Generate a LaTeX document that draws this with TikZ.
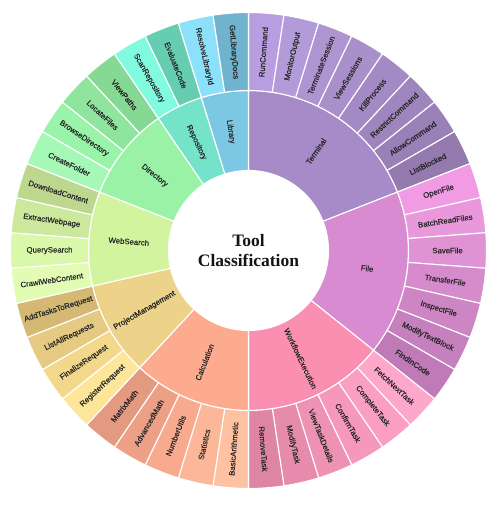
\documentclass[tikz,border=0pt]{standalone}
\usepackage{fontspec}
\setmainfont{Liberation Sans}
\newfontfamily\lblfont[FakeBold=0.35]{Liberation Sans}
\newfontfamily\titlefont{Liberation Serif}
% category colours
\definecolor{Terminal}{HTML}{A78AC8}
\definecolor{File}{HTML}{D88BD0}
\definecolor{Workflow}{HTML}{FB8FB1}
\definecolor{Calc}{HTML}{FCAB8F}
\definecolor{PM}{HTML}{EDD289}
\definecolor{Web}{HTML}{D2F49F}
\definecolor{Dir}{HTML}{99F2A6}
\definecolor{Repo}{HTML}{74E3C9}
\definecolor{Lib}{HTML}{7CC8E4}
% leaf colours
\definecolor{T1}{HTML}{B89EE0}
\definecolor{T2}{HTML}{B39AD9}
\definecolor{T3}{HTML}{AE95D2}
\definecolor{T4}{HTML}{A990CB}
\definecolor{T5}{HTML}{A38AC4}
\definecolor{T6}{HTML}{9E85BD}
\definecolor{T7}{HTML}{9980B6}
\definecolor{T8}{HTML}{947AAF}
\definecolor{F1}{HTML}{F09BE3}
\definecolor{F2}{HTML}{E898DB}
\definecolor{F3}{HTML}{DF92D4}
\definecolor{F4}{HTML}{D68BCC}
\definecolor{F5}{HTML}{CD85C4}
\definecolor{F6}{HTML}{C680BE}
\definecolor{F7}{HTML}{BF7AB7}
\definecolor{W1}{HTML}{FDA8CA}
\definecolor{W2}{HTML}{FA9FC2}
\definecolor{W3}{HTML}{F698BB}
\definecolor{W4}{HTML}{EE92B3}
\definecolor{W5}{HTML}{E68BAB}
\definecolor{W6}{HTML}{DD85A2}
\definecolor{C1}{HTML}{FEC2A2}
\definecolor{C2}{HTML}{FCB698}
\definecolor{C3}{HTML}{F8AA8E}
\definecolor{C4}{HTML}{EEA086}
\definecolor{C5}{HTML}{E39A80}
\definecolor{P1}{HTML}{FDE699}
\definecolor{P2}{HTML}{F3D88C}
\definecolor{P3}{HTML}{E6CA82}
\definecolor{P4}{HTML}{D5B874}
\definecolor{S1}{HTML}{E3FCB4}
\definecolor{S2}{HTML}{DAF8A9}
\definecolor{S3}{HTML}{CCE89D}
\definecolor{S4}{HTML}{BED78F}
\definecolor{D1}{HTML}{A5F8B6}
\definecolor{D2}{HTML}{99F3A9}
\definecolor{D3}{HTML}{8FE59E}
\definecolor{D4}{HTML}{86D994}
\definecolor{R1}{HTML}{80FBE0}
\definecolor{R2}{HTML}{67CDB0}
\definecolor{L1}{HTML}{8CE0FA}
\definecolor{L2}{HTML}{6FB3CE}
\begin{document}
\begin{tikzpicture}[
  lbl/.style={font=\lblfont\fontsize{7.8}{9}\selectfont, text=black!85, inner sep=0pt},
  wedgestyle/.style={draw=white, line width=1.1pt, line join=round}
]
\useasboundingbox (-248.5pt,-267.5pt) rectangle (248.5pt,250.5pt);
\def\rA{80pt}\def\rB{160pt}\def\rC{238pt}
\newcommand\leafw[4]{%
 \pgfmathsetmacro\aS{90-#1*360/42}%
 \pgfmathsetmacro\aE{90-(#1+1)*360/42}%
 \pgfmathsetmacro\aM{90-(#1+0.5)*360/42}%
 \pgfmathsetmacro\rot{(\aM<-90)?(\aM+180):(\aM)}%
 \fill[fill=#2, wedgestyle] (\aS:\rB) arc[start angle=\aS, end angle=\aE, radius=\rB] -- (\aE:\rC) arc[start angle=\aE, end angle=\aS, radius=\rC] -- cycle;
 \node[lbl, rotate=\rot] (#4) at (\aM:199pt) {#3};
}
\newcommand\catw[5]{%
 \pgfmathsetmacro\aS{90-#1*360/42}%
 \pgfmathsetmacro\aE{90-(#1+#2)*360/42}%
 \pgfmathsetmacro\aM{90-(#1+#2/2)*360/42}%
 \pgfmathsetmacro\rot{(\aM<-90)?(\aM+180):(\aM)}%
 \fill[fill=#3, wedgestyle] (\aS:\rA) arc[start angle=\aS, end angle=\aE, radius=\rA] -- (\aE:\rB) arc[start angle=\aE, end angle=\aS, radius=\rB] -- cycle;
 \node[lbl, rotate=\rot] (#5) at (\aM:120pt) {#4};
}
% categories
\catw{0}{8}{Terminal}{Terminal}{cterm}
\catw{8}{7}{File}{File}{cfile}
\catw{15}{6}{Workflow}{WorkflowExecution}{cwork}
\catw{21}{5}{Calc}{Calculation}{ccalc}
\catw{26}{4}{PM}{ProjectManagement}{cpm}
\catw{30}{4}{Web}{WebSearch}{cweb}
\catw{34}{4}{Dir}{Directory}{cdir}
\catw{38}{2}{Repo}{Repository}{crepo}
\catw{40}{2}{Lib}{Library}{clib}
% leaves: Terminal
\leafw{0}{T1}{RunCommand}{l0}
\leafw{1}{T2}{MonitorOutput}{l1}
\leafw{2}{T3}{TerminateSession}{l2}
\leafw{3}{T4}{ViewSessions}{l3}
\leafw{4}{T5}{KillProcess}{l4}
\leafw{5}{T6}{RestrictCommand}{l5}
\leafw{6}{T7}{AllowCommand}{l6}
\leafw{7}{T8}{ListBlocked}{l7}
% File
\leafw{8}{F1}{OpenFile}{l8}
\leafw{9}{F2}{BatchReadFiles}{l9}
\leafw{10}{F3}{SaveFile}{l10}
\leafw{11}{F4}{TransferFile}{l11}
\leafw{12}{F5}{InspectFile}{l12}
\leafw{13}{F6}{ModifyTextBlock}{l13}
\leafw{14}{F7}{FindInCode}{l14}
% Workflow
\leafw{15}{W1}{FetchNextTask}{l15}
\leafw{16}{W2}{CompleteTask}{l16}
\leafw{17}{W3}{ConfirmTask}{l17}
\leafw{18}{W4}{ViewTaskDetails}{l18}
\leafw{19}{W5}{ModifyTask}{l19}
\leafw{20}{W6}{RemoveTask}{l20}
% Calculation
\leafw{21}{C1}{BasicArithmetic}{l21}
\leafw{22}{C2}{Statistics}{l22}
\leafw{23}{C3}{NumberUtils}{l23}
\leafw{24}{C4}{AdvancedMath}{l24}
\leafw{25}{C5}{MatrixMath}{l25}
% Project management
\leafw{26}{P1}{RegisterRequest}{l26}
\leafw{27}{P2}{FinalizeRequest}{l27}
\leafw{28}{P3}{ListAllRequests}{l28}
\leafw{29}{P4}{AddTasksToRequest}{l29}
% WebSearch
\leafw{30}{S1}{CrawlWebContent}{l30}
\leafw{31}{S2}{QuerySearch}{l31}
\leafw{32}{S3}{ExtractWebpage}{l32}
\leafw{33}{S4}{DownloadContent}{l33}
% Directory
\leafw{34}{D1}{CreateFolder}{l34}
\leafw{35}{D2}{BrowseDirectory}{l35}
\leafw{36}{D3}{LocateFiles}{l36}
\leafw{37}{D4}{ViewPaths}{l37}
% Repository
\leafw{38}{R1}{ScanRepository}{l38}
\leafw{39}{R2}{EvaluateCode}{l39}
% Library
\leafw{40}{L1}{ResolveLibraryId}{l40}
\leafw{41}{L2}{GetLibraryDocs}{l41}
\node[font=\titlefont\bfseries\fontsize{17.5}{20.5}\selectfont, align=center, text=black!92] (title) at (0,0) {Tool\\Classification};
\end{tikzpicture}
\end{document}
